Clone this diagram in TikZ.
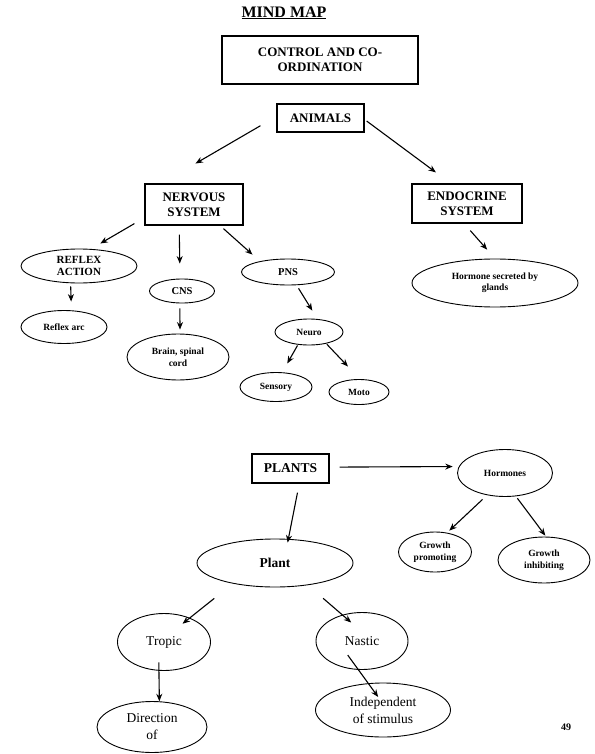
\documentclass[tikz,border=0pt]{standalone}
\usepackage{fontspec}
\setmainfont{Liberation Serif}
\usetikzlibrary{shapes.geometric,arrows.meta}
\begin{document}
\begin{tikzpicture}[x=1pt,y=-1pt,
  box/.style={draw,line width=1.3pt,inner sep=0pt,align=center,font=\fontsize{13}{15}\selectfont\bfseries},
  ell/.style={draw,ellipse,line width=0.9pt,inner sep=0pt,align=center},
  small/.style={font=\fontsize{9.5}{11.5}\selectfont\bfseries},
  smallbf/.style={font=\fontsize{10.5}{11.5}\selectfont\bfseries},
  big/.style={font=\fontsize{13.5}{17}\selectfont},
  bigbf/.style={font=\fontsize{13.5}{17}\selectfont\bfseries},
  arr/.style={-{Stealth[length=7.5pt,width=6pt]},line width=1.1pt},
]
\path[use as bounding box,fill=white] (0,0) rectangle (594,754);

% title
\node[font=\fontsize{16}{18}\selectfont\bfseries] (title) at (284,13) {\underline{MIND MAP}};

% boxes
\node[box,minimum width=196pt,minimum height=48pt] (control) at (320,60) {CONTROL AND CO-\\ORDINATION};
\node[box,minimum width=87pt,minimum height=28pt] (animals) at (320.5,118) {ANIMALS};
\node[box,minimum width=98pt,minimum height=41pt] (nervous) at (194,204.5) {NERVOUS\\SYSTEM};
\node[box,minimum width=110pt,minimum height=39pt] (endocrine) at (467,203.5) {ENDOCRINE\\SYSTEM};
\node[box,font=\fontsize{13.5}{15}\selectfont\bfseries,minimum width=77pt,minimum height=29pt] (plants) at (290.5,468.5) {PLANTS};

% animal ellipses
\node[ell,small,minimum width=166pt,minimum height=48pt] (hormone) at (495,283) {Hormone secreted by\\glands};
\node[ell,font=\fontsize{11}{12}\selectfont\bfseries,minimum width=116pt,minimum height=34pt] (reflex) at (79,266) {REFLEX\\ACTION};
\node[ell,small,minimum width=86pt,minimum height=33pt] (reflexarc) at (64,327) {Reflex arc};
\node[ell,smallbf,minimum width=65pt,minimum height=24pt] (cns) at (182,291) {CNS};
\node[ell,small,minimum width=102pt,minimum height=46pt] (brain) at (178,357) {Brain, spinal\\cord};
\node[ell,smallbf,minimum width=93pt,minimum height=26pt] (pns) at (288,272) {PNS};
\node[ell,small,minimum width=68pt,minimum height=26pt] (neuro) at (309,332) {Neuro};
\node[ell,small,minimum width=72pt,minimum height=29pt] (sensory) at (276,387) {Sensory};
\node[ell,small,minimum width=60pt,minimum height=25pt] (moto) at (359,392) {Moto};

% plant ellipses
\node[ell,small,minimum width=95pt,minimum height=47pt] (hormones) at (505,473) {Hormones};
\node[ell,small,minimum width=73pt,minimum height=40pt] (gpromo) at (435,552) {Growth\\promoting};
\node[ell,small,minimum width=92pt,minimum height=46pt] (ginhib) at (544,560) {Growth\\inhibiting};
\node[ell,bigbf,minimum width=156pt,minimum height=48pt] (plant) at (275,563) {Plant};
\node[ell,big,minimum width=93pt,minimum height=57pt] (tropic) at (164,642) {Tropic};
\node[ell,big,minimum width=92pt,minimum height=57pt] (nastic) at (362,641) {Nastic};
\node[ell,big,minimum width=110pt,minimum height=51pt] (direction) at (152,727) {Direction\\of};
\node[ell,big,minimum width=135pt,minimum height=54pt] (independent) at (383,710) {Independent\\of stimulus};

\node[font=\fontsize{10}{12}\selectfont\bfseries] (page) at (566,727) {49};

% connectors
\draw[arr,shorten <=18.4pt,shorten >=39.4pt] (animals.178) -- (nervous.147);
\draw[arr,shorten <=2.5pt,shorten >=18.4pt] (animals.-2) -- (endocrine.129.7);
\draw[arr,shorten <=11.5pt,shorten >=10.8pt] (nervous.195.7) -- (reflex.55);
\draw[arr,shorten <=9pt,shorten >=15pt] (nervous.235.7) -- (cns.99.5);
\draw[arr,shorten <=4.5pt,shorten >=9.9pt] (nervous.-39.8) -- (pns.159.1);
\draw[arr,shorten <=9.2pt,shorten >=11.8pt] (endocrine.-98.7) -- (hormone.90.7);
\draw[arr,shorten <=3.2pt,shorten >=8.7pt] (reflex.244.5) -- (reflexarc.66.8);
\draw[arr,shorten <=5pt,shorten >=4pt] (cns.260.5) -- (brain.85);
\draw[arr,shorten <=3.7pt,shorten >=9.8pt] (pns.-57.8) -- (neuro.57.3);
\draw[arr,shorten <=0.8pt,shorten >=10.1pt] (neuro.229.4) -- (sensory.67.2);
\draw[arr,shorten <=0.9pt,shorten >=17.3pt] (neuro.-34.8) -- (moto.86);
\draw[arr,shorten <=10pt,shorten >=6.1pt] (plants.2.2) -- (hormones.172.6);
\draw[arr,shorten <=9.2pt,shorten >=-3.8pt] (plants.-60.2) -- (plant.61.8);
\draw[arr,shorten <=6.1pt,shorten >=3pt] (hormones.231.1) -- (gpromo.58);
\draw[arr,shorten <=2.5pt,shorten >=1.2pt] (hormones.-65.4) -- (ginhib.85.8);
\draw[arr,shorten <=23.7pt,shorten >=-9.4pt] (plant.206.1) -- (tropic.43.2);
\draw[arr,shorten <=20.1pt,shorten >=-11.8pt] (plant.-34.6) -- (nastic.127.7);
\draw[arr,shorten <=-8.3pt] (tropic.260) -- (direction.74.5);
\draw[arr,shorten <=-18.3pt,shorten >=-17pt] (nastic.263.6) -- (independent.119.9);
\end{tikzpicture}
\end{document}
